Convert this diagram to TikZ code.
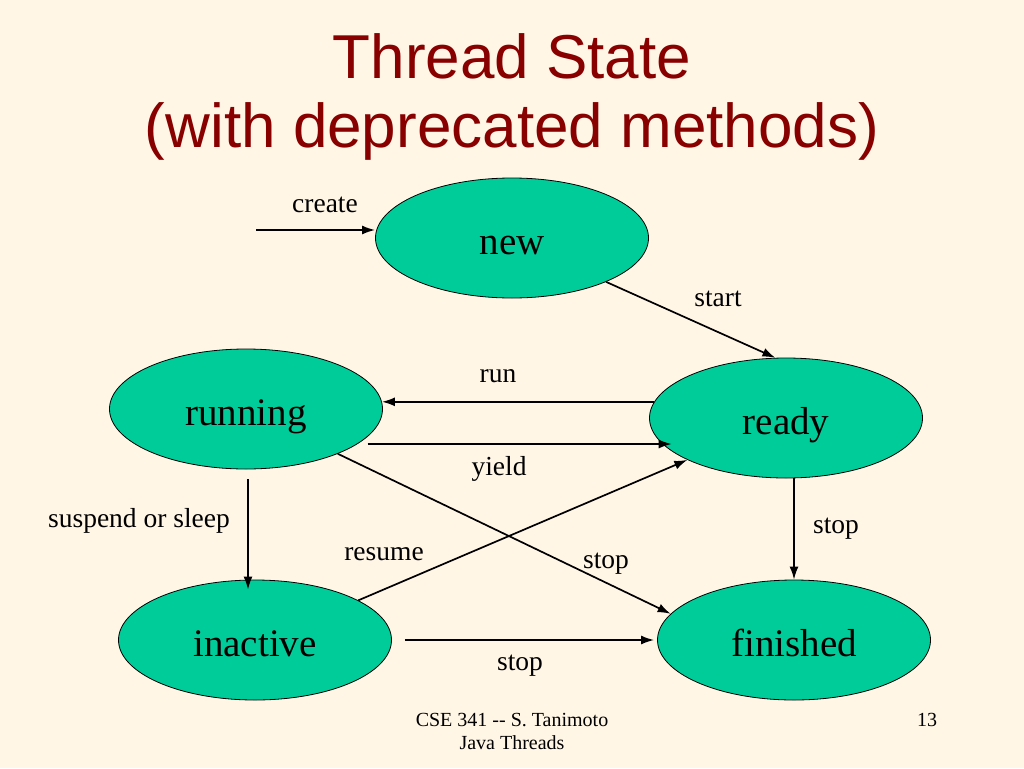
\documentclass[tikz,border=0pt]{standalone}
\usepackage{fontspec}
\setmainfont{Liberation Serif}
\newfontfamily\titlefont{Liberation Sans}
\usetikzlibrary{shapes.geometric,arrows.meta,calc}
\definecolor{bgcol}{HTML}{FFF6E6}
\definecolor{statefill}{HTML}{00CC99}
\definecolor{titlecol}{HTML}{880000}
\tikzset{
  state/.style={ellipse, draw=black, line width=0.8pt, fill=statefill,
    minimum width=273pt, minimum height=120pt, inner sep=0pt,
    text height=33pt, text depth=0pt,
    font=\fontsize{39}{44}\selectfont},
  arr/.style={line width=1.7pt, -{Latex[length=13pt,width=9pt]}},
  lbl/.style={font=\fontsize{27.5}{31}\selectfont, inner sep=0pt},
  foot/.style={font=\fontsize{20}{24}\selectfont, inner sep=0pt},
  ttl/.style={font=\titlefont\fontsize{62}{70}\selectfont, text=titlecol, inner sep=0pt}
}
\begin{document}
\begin{tikzpicture}[x=1pt,y=-1pt]
\fill[bgcol] (0,0) rectangle (1024,768);
\useasboundingbox (0,0) rectangle (1024,768);

\node[ttl] (t1) at (512,56) {Thread State};
\node[ttl] (t2) at (512,131) {(with deprecated methods)};

\node[state] (new) at (512,238) {new};
\node[state] (running) at (246,409) {running};
\node[state] (ready) at (786,418) {ready};
\node[state] (inactive) at (255,640) {inactive};
\node[state] (finished) at (794,640) {finished};

\coordinate (c0) at (256,230);
\draw[arr] (c0) -- (c0 -| new.west);
\draw[arr] (new.-25) -- (ready.100);
\draw[arr] (ready.173) -- (ready.173 -| running.3);
\draw[arr] ([xshift=9pt,yshift=-0.6pt]running.-17) -- ([xshift=9pt,yshift=-0.6pt]running.-17 -| ready.-168);
\draw[arr] (inactive.21) -- (ready.-157);
\draw[arr] (running.-26) -- (finished.168);
\draw[arr] ([yshift=-10pt,xshift=2pt]running.south) -- ([yshift=-10pt,xshift=2pt]running.south |- inactive.north);
\draw[arr] (finished.north |- ready.south) -- (finished.north);
\draw[arr] ([xshift=13pt]inactive.east) -- ([xshift=-3pt]finished.west);

\node[lbl] (lcreate) at (325,205) {create};
\node[lbl] (lstart) at (718,299) {start};
\node[lbl] (lrun) at (498,376) {run};
\node[lbl] (lyield) at (499,469) {yield};
\node[lbl] (lsusp) at (139,521) {suspend or sleep};
\node[lbl] (lresume) at (384,554) {resume};
\node[lbl] (lstop1) at (606,564) {stop};
\node[lbl] (lstop2) at (836,529) {stop};
\node[lbl] (lstop3) at (520,666) {stop};

\node[foot] (f1) at (512,720) {CSE 341 -{}- S. Tanimoto};
\node[foot] (f2) at (512,743) {Java Threads};
\node[foot] (f3) at (927,720) {13};
\end{tikzpicture}
\end{document}
